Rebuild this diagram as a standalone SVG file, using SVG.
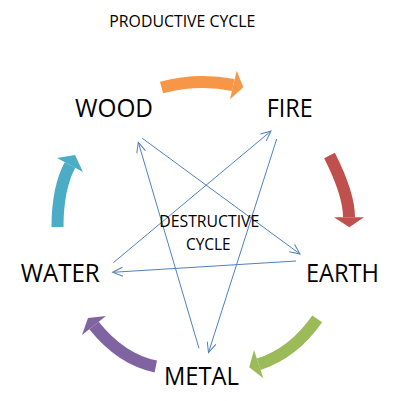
<svg xmlns="http://www.w3.org/2000/svg" width="402" height="401" viewBox="0 0 402 401">
<style>
.lbl{font-family:"Open Sans","Liberation Sans",sans-serif;fill:#000;}
.big{font-size:26px;}
.small{font-size:16px;}
.fat{fill:none;stroke-width:12;stroke-linecap:butt;}
.thin{fill:none;stroke:#4F81BD;stroke-width:1;}
</style>
<defs>
<marker id="open" markerUnits="userSpaceOnUse" markerWidth="14" markerHeight="14" viewBox="-12 -7 14 14" refX="0" refY="0" orient="auto">
<path d="M-10,-4.5 L0,0 L-10,4.5" fill="none" stroke="#4F81BD" stroke-width="1"/>
</marker>
</defs>
<rect width="402" height="401" fill="#fff"/>
<g id="title"><text class="lbl small" x="109.3" y="27.3" textLength="146" lengthAdjust="spacingAndGlyphs">PRODUCTIVE CYCLE</text></g>
<g id="connectors">
<g id="productive">
<path class="fat" stroke="#F79646" d="M161.5,87.5 Q197.4,78 233.3,85"/>
<polygon fill="#F79646" points="236.7,70.7 243.3,87.3 230,99.3"/>
<path class="fat" stroke="#C0504D" d="M329.5,155.5 Q349,194 349,217.3"/>
<polygon fill="#C0504D" points="334,217.3 349.3,227.3 364,217.3"/>
<path class="fat" stroke="#9BBB59" d="M317.2,318.8 Q293.5,352.9 258.7,364.2"/>
<polygon fill="#9BBB59" points="254,350 249.2,367.3 263.3,378.3"/>
<path class="fat" stroke="#8064A2" d="M155.8,366.5 Q121.1,359.4 94,325.5"/>
<polygon fill="#8064A2" points="82,335 88,318 106,316"/>
<path class="fat" stroke="#4BACC6" d="M57.5,227 Q57.5,188.4 70,165"/>
<polygon fill="#4BACC6" points="57,158 75,155 83,172"/>
</g>
<g id="destructive">
<line class="thin" x1="142.3" y1="138.3" x2="300" y2="254" marker-end="url(#open)"/>
<line class="thin" x1="296" y1="261" x2="112.7" y2="272.3" marker-end="url(#open)"/>
<line class="thin" x1="113.3" y1="262.7" x2="271" y2="131" marker-end="url(#open)"/>
<line class="thin" x1="276.7" y1="139" x2="208.5" y2="352.5" marker-end="url(#open)"/>
<line class="thin" x1="199" y1="348.3" x2="138.3" y2="142.3" marker-end="url(#open)"/>
</g>
</g>
<g id="wood"><text class="lbl big" x="75" y="117.3" textLength="78" lengthAdjust="spacingAndGlyphs">WOOD</text></g>
<g id="fire"><text class="lbl big" x="266.7" y="117.3" textLength="46" lengthAdjust="spacingAndGlyphs">FIRE</text></g>
<g id="earth"><text class="lbl big" x="306" y="281.7" textLength="73" lengthAdjust="spacingAndGlyphs">EARTH</text></g>
<g id="water"><text class="lbl big" x="20.7" y="281.7" textLength="79" lengthAdjust="spacingAndGlyphs">WATER</text></g>
<g id="metal"><text class="lbl big" x="164" y="385" textLength="75" lengthAdjust="spacingAndGlyphs">METAL</text></g>
<g id="destructive-label">
<text class="lbl small" x="159.3" y="227.3" textLength="100" lengthAdjust="spacingAndGlyphs">DESTRUCTIVE</text>
<text class="lbl small" x="186" y="250" textLength="44.7" lengthAdjust="spacingAndGlyphs">CYCLE</text>
</g>
</svg>
